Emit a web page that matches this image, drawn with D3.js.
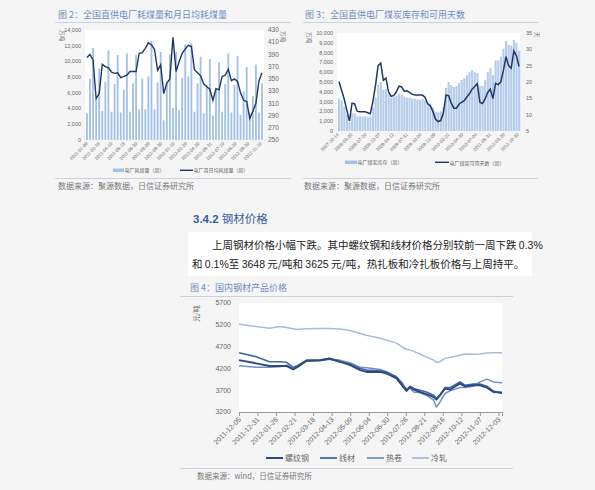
<!DOCTYPE html>
<html><head><meta charset="utf-8">
<script src="https://cdn.jsdelivr.net/npm/d3@7"></script>
<style>
body{margin:0;background:#f5f5f5}
svg{display:block}
text{font-family:"Noto Sans CJK SC","Liberation Sans",sans-serif}
.num{font-family:"Liberation Sans","Noto Sans CJK SC",sans-serif}
</style>
</head><body>
<svg id="s" width="595" height="490"></svg>
<script>
// ---------- Figure 2 data ----------
const fig2Dates = ["2011-01-09","2011-02-28","2011-04-10","2011-05-18","2011-06-30","2011-08-09","2011-09-30","2012-01-10","2012-02-29","2012-04-20","2012-05-31","2012-07-10","2012-08-20","2012-09-30","2012-11-10"];
const coalUse = [3400,7800,11700,5200,9100,3700,7400,11400,3600,7100,10800,3500,6400,11000,3600,7200,10800,3900,7800,3900,8100,12600,3900,7300,11200,2500,7300,10900,4100,11200,3800,7900,12200,8100,12300,3600,7200,10600,3400,7000,10300,3100,6500,9900,3600,7100,11000,3500,7000,10700,3200,6200,9300,3400,5600,9600,3500,7200];
const dailyUse = [385,390,381,318,326,374,370,368,361,359,360,352,354,356,362,362,362,392,393,400,409,406,398,364,373,326,343,350,418,362,378,392,399,405,403,365,360,355,342,337,333,315,334,332,354,356,366,347,350,346,327,315,313,285,297,310,347,360];
const fig2LeftTicks = [0,2000,4000,6000,8000,10000,12000,14000];
const fig2RightTicks = [250,270,290,310,330,350,370,390,410,430];

// ---------- Figure 3 data ----------
const fig3Dates = ["2007-10-14","2008-03-02","2008-07-20","2008-12-07","2009-04-12","2009-07-31","2009-10-04","2009-12-09","2010-02-21","2010-04-30","2010-07-04","2011-05-31","2012-03-20","2012-10-30"];
const stock = [3300,3100,2500,1700,900,1800,1800,1500,1500,1500,1500,1400,1500,2400,3400,4700,5000,4200,4300,3800,3400,3500,3600,3800,3700,3500,3400,3400,3300,3300,3200,3200,3300,3100,2900,2800,2400,2000,1900,2000,2400,4400,5000,4700,4500,4600,4900,5200,5400,5700,6000,6200,6000,5900,4600,4600,5200,6000,6400,5700,7200,7200,7600,8400,9200,8800,8700,9300,9000,8200];
const days = [20.1,17.5,14.8,11.4,8.0,13.5,13.3,11.0,10.9,10.9,10.9,10.6,10.3,14.0,19.0,25.0,25.8,20.5,21.2,17.0,15.6,15.9,17.0,18.7,18.5,17.2,17.3,16.8,16.3,16.0,16.0,16.0,16.0,15.3,13.3,12.7,11.0,8.6,7.9,8.2,10.5,16.0,15.8,13.6,12.0,12.0,13.2,13.8,14.3,15.4,16.4,17.8,18.6,19.5,13.8,13.4,14.8,16.8,17.8,14.9,19.6,19.2,20.0,23.5,27.8,25.0,24.2,29.5,28.0,24.8];
const fig3LeftTicks = [0,1000,2000,3000,4000,5000,6000,7000,8000,9000,10000];
const fig3RightTicks = [5,10,15,20,25,30,35];

// ---------- Figure 4 data ----------
const steelDates = ["2011-12-05","2011-12-29","2012-01-17","2012-01-31","2012-02-10","2012-02-19","2012-02-24","2012-03-09","2012-03-27","2012-04-10","2012-04-24","2012-05-09","2012-05-23","2012-06-01","2012-06-20","2012-06-29","2012-07-13","2012-07-22","2012-07-27","2012-08-01","2012-08-06","2012-08-15","2012-08-24","2012-09-03","2012-09-07","2012-09-12","2012-09-19","2012-09-26","2012-10-10","2012-10-17","2012-10-29","2012-11-07","2012-11-17","2012-11-26","2012-12-08"];
const rebar   = [4390,4315,4255,4255,4255,4180,4225,4375,4380,4420,4360,4275,4160,4120,4120,4085,3970,3790,3685,3775,3715,3660,3610,3545,3485,3585,3740,3715,3855,3790,3815,3815,3760,3660,3648];
const wire    = [4561,4470,4354,4354,4340,4225,4255,4390,4390,4430,4350,4300,4200,4160,4145,4120,4010,3840,3700,3790,3740,3700,3660,3585,3510,3585,3760,3760,3890,3815,3840,3840,3790,3680,3625];
const hotCoil = [4260,4225,4225,4240,4275,4200,4225,4370,4385,4410,4390,4330,4225,4215,4175,4120,3990,3790,3740,3740,3660,3640,3585,3470,3315,3430,3625,3685,3760,3760,3790,3890,3955,3890,3870];
const coldRoll= [5215,5160,5120,5160,5140,5110,5090,5110,5115,5115,5105,5070,5000,4960,4890,4850,4780,4680,4640,4620,4590,4530,4460,4390,4340,4355,4430,4450,4500,4530,4525,4530,4555,4560,4560];
const steelTickLabels = ["2011-12-05","2011-12-31","2012-01-26","2012-02-21","2012-03-18","2012-04-13","2012-05-09","2012-06-04","2012-06-30","2012-07-26","2012-08-21","2012-09-16","2012-10-12","2012-11-07","2012-12-03"];
const steelYTicks = [3200,3700,4200,4700,5200,5700];
const steelNames = ["螺纹钢","线材","热卷","冷轧"];

const svg = d3.select("#s");
const titleColor = "#6f8cc4";
const ruleColor = "#c9d0e2";
const axisText = "#666";

function rule(x1,x2,y){ svg.append("line").attr("x1",x1).attr("x2",x2).attr("y1",y).attr("y2",y).attr("stroke",ruleColor).attr("stroke-width",1); }
function txt(x,y,s,fs,fill,opts={}){ const t=svg.append("text").attr("x",x).attr("y",y).attr("font-size",fs).attr("fill",fill).text(s); if(opts.anchor)t.attr("text-anchor",opts.anchor); if(opts.cls)t.attr("class",opts.cls); if(opts.weight)t.attr("font-weight",opts.weight); return t; }
function vtxt(x,y,s,fs,fill){ return svg.append("text").attr("transform",`translate(${x},${y}) rotate(90)`).attr("font-size",fs).attr("fill",fill).text(s); }
function rotLabels(labels,x0,x1,y,fs){
  const sp=d3.scalePoint().domain(labels).range([x0,x1]);
  svg.append("g").selectAll("text").data(labels).join("text")
    .attr("class","num").attr("transform",d=>`translate(${sp(d)},${y}) rotate(-45)`)
    .attr("text-anchor","end").attr("font-size",fs).attr("fill",axisText).text(d=>d);
}
function valAxis(scale,ticks,x,anchor,fs,fmt){
  svg.append("g").selectAll("text").data(ticks).join("text").attr("class","num")
    .attr("x",x).attr("y",d=>scale(d)).attr("dy","0.35em").attr("text-anchor",anchor)
    .attr("font-size",fs).attr("fill",axisText).text(d=>fmt(d));
}

// =========== Figure 2 ===========
txt(58,18,"图 2：全国直供电厂耗煤量和月日均耗煤量",9,titleColor);
rule(55,291,22.5);
{
  const L=85,R=264,T=30,B=140;
  svg.append("rect").attr("x",L).attr("y",T).attr("width",R-L).attr("height",B-T).attr("fill","#fff");
  const x=d3.scaleBand().domain(d3.range(coalUse.length)).range([L+1,R-1]).paddingInner(0.4);
  const yL=d3.scaleLinear().domain([0,14000]).range([B,T]);
  const yR=d3.scaleLinear().domain([250,430]).range([B,T]);
  svg.append("g").selectAll("rect").data(coalUse).join("rect")
    .attr("x",(d,i)=>x(i)).attr("width",x.bandwidth()).attr("y",d=>yL(d)).attr("height",d=>B-yL(d)).attr("fill","#a3c0e6");
  svg.append("path").datum(dailyUse).attr("fill","none").attr("stroke","#1f3866").attr("stroke-width",1.4)
    .attr("d",d3.line().x((d,i)=>x(i)+x.bandwidth()/2).y(d=>yR(d)));
  valAxis(yL,fig2LeftTicks,81,"end",5.5,d3.format(","));
  valAxis(yR,fig2RightTicks,268,"start",6.5,d=>d);
  vtxt(60,30,"万吨",5.5,axisText);
  vtxt(281,31,"万吨",5.5,axisText);
  rotLabels(fig2Dates,88,262,144,4.6);
  svg.append("rect").attr("x",113).attr("y",168.5).attr("width",11).attr("height",3.5).attr("fill","#a3c0e6");
  txt(124.5,172,"电厂耗煤量（周）",5,axisText);
  svg.append("line").attr("x1",180).attr("x2",193).attr("y1",170.3).attr("y2",170.3).attr("stroke","#1f3866").attr("stroke-width",1.4);
  txt(193.5,172,"电厂月日均耗煤量（周）",5,axisText);
}
rule(55,291,178.5);
txt(58,189,"数据来源：聚源数据，日信证券研究所",8,"#777");

// =========== Figure 3 ===========
txt(305,18,"图 3：全国直供电厂煤炭库存和可用天数",9,titleColor);
rule(303,538,22.5);
{
  const L=337,R=520,T=33,B=131;
  svg.append("rect").attr("x",L).attr("y",T).attr("width",R-L).attr("height",B-T).attr("fill","#fff");
  const x=d3.scaleBand().domain(d3.range(stock.length)).range([L+1,R]).paddingInner(0.25);
  const yL=d3.scaleLinear().domain([0,10000]).range([B,T]);
  const yR=d3.scaleLinear().domain([5,35]).range([B,T]);
  svg.append("g").selectAll("rect").data(stock).join("rect")
    .attr("x",(d,i)=>x(i)).attr("width",x.bandwidth()+0.2).attr("y",d=>yL(d)).attr("height",d=>B-yL(d)).attr("fill","#b6cdea");
  svg.append("path").datum(days).attr("fill","none").attr("stroke","#1f3866").attr("stroke-width",1.5)
    .attr("d",d3.line().x((d,i)=>x(i)+x.bandwidth()/2).y(d=>yR(d)));
  valAxis(yL,fig3LeftTicks,333,"end",5.5,d3.format(","));
  valAxis(yR,fig3RightTicks,526,"start",5.5,d=>d);
  vtxt(307,32,"万吨",5.5,axisText);
  vtxt(535,32,"天",5.5,axisText);
  rotLabels(fig3Dates,339,519,135,4.6);
  svg.append("rect").attr("x",345).attr("y",160.5).attr("width",12).attr("height",3.5).attr("fill","#a3c0e6");
  txt(357.5,164,"电厂煤炭库存（周）",5,axisText);
  svg.append("line").attr("x1",435).attr("x2",449).attr("y1",162.3).attr("y2",162.3).attr("stroke","#1f3866").attr("stroke-width",1.4);
  txt(449.5,164.5,"电厂煤炭可用天数（周）",5,axisText);
}
rule(303,538,178.5);
txt(304,189,"数据来源：聚源数据，日信证券研究所",8,"#777");

// =========== Section text ===========
const h = txt(193,223,"",11.5,"#3a5b9c");
h.append("tspan").attr("font-family","Liberation Sans").attr("font-weight","bold").text("3.4.2 ");
h.append("tspan").text("钢材价格");
svg.append("rect").attr("x",188).attr("y",232).attr("width",344).attr("height",44).attr("fill","#fff");
const p1 = txt(212,249,"",10.5,"#222");
p1.append("tspan").text("上周钢材价格小幅下跌。其中螺纹钢和线材价格分别较前一周下跌 ");
p1.append("tspan").attr("font-family","Liberation Sans").text("0.3%");
const p2 = txt(192,268,"",10.5,"#222");
p2.append("tspan").text("和 ");
p2.append("tspan").attr("font-family","Liberation Sans").text("0.1%");
p2.append("tspan").text("至 ");
p2.append("tspan").attr("font-family","Liberation Sans").text("3648");
p2.append("tspan").text(" 元/吨和 ");
p2.append("tspan").attr("font-family","Liberation Sans").text("3625");
p2.append("tspan").text(" 元/吨，热扎板和冷扎板价格与上周持平。");

// =========== Figure 4 ===========
txt(190,291,"图 4：国内钢材产品价格",9,titleColor);
rule(180,513,296.5);
{
  const L=239,R=502,T=303,B=412;
  svg.append("rect").attr("x",L).attr("y",T).attr("width",R-L).attr("height",B-T).attr("fill","#fff");
  const parse=d3.timeParse("%Y-%m-%d");
  const dates=steelDates.map(parse);
  const x=d3.scaleTime().domain([dates[0],dates[dates.length-1]]).range([L,R]);
  const y=d3.scaleLinear().domain([3200,5700]).range([B,T]);
  const series=[
    {name:steelNames[3],v:coldRoll,c:"#a9bbdd",w:1.5},
    {name:steelNames[2],v:hotCoil,c:"#7191c6",w:1.5},
    {name:steelNames[1],v:wire,c:"#4467a6",w:1.6},
    {name:steelNames[0],v:rebar,c:"#2d4a7e",w:2}
  ];
  const line=d3.line().x((d,i)=>x(dates[i])).y(d=>y(d));
  series.forEach(s=>svg.append("path").datum(s.v).attr("fill","none").attr("stroke",s.c).attr("stroke-width",s.w).attr("stroke-linejoin","round").attr("d",line));
  valAxis(y,steelYTicks,231,"end",7,d=>d);
  vtxt(199,307,"元/吨",7,axisText).attr("transform","translate(199,322) rotate(-90)");
  const tickDates=steelTickLabels.map(parse);
  const ax=svg.append("g").attr("transform",`translate(0,${B})`)
    .call(d3.axisBottom(x).tickValues(tickDates).tickSize(4).tickFormat(d3.timeFormat("%Y-%m-%d")));
  ax.select(".domain").attr("stroke","#999");
  ax.selectAll(".tick line").attr("stroke","#999");
  ax.selectAll(".tick text").attr("class","num").attr("font-size",7).attr("fill",axisText)
    .attr("text-anchor","end").attr("dy",0).attr("y",0).attr("transform","translate(2,8) rotate(-45)");
  const leg=[{n:steelNames[0],c:"#2d4a7e",x:266,w:2},{n:steelNames[1],c:"#4467a6",x:320,w:1.8},{n:steelNames[2],c:"#7191c6",x:367,w:1.8},{n:steelNames[3],c:"#a9bbdd",x:412,w:1.8}];
  leg.forEach(l=>{
    svg.append("line").attr("x1",l.x).attr("x2",l.x+17).attr("y1",458).attr("y2",458).attr("stroke",l.c).attr("stroke-width",l.w);
    txt(l.x+19,461,l.n,8,axisText);
  });
}
rule(180,513,468.5);
txt(197,479,"数据来源：wind，日信证券研究所",7.5,"#777");
</script>
</body></html>
